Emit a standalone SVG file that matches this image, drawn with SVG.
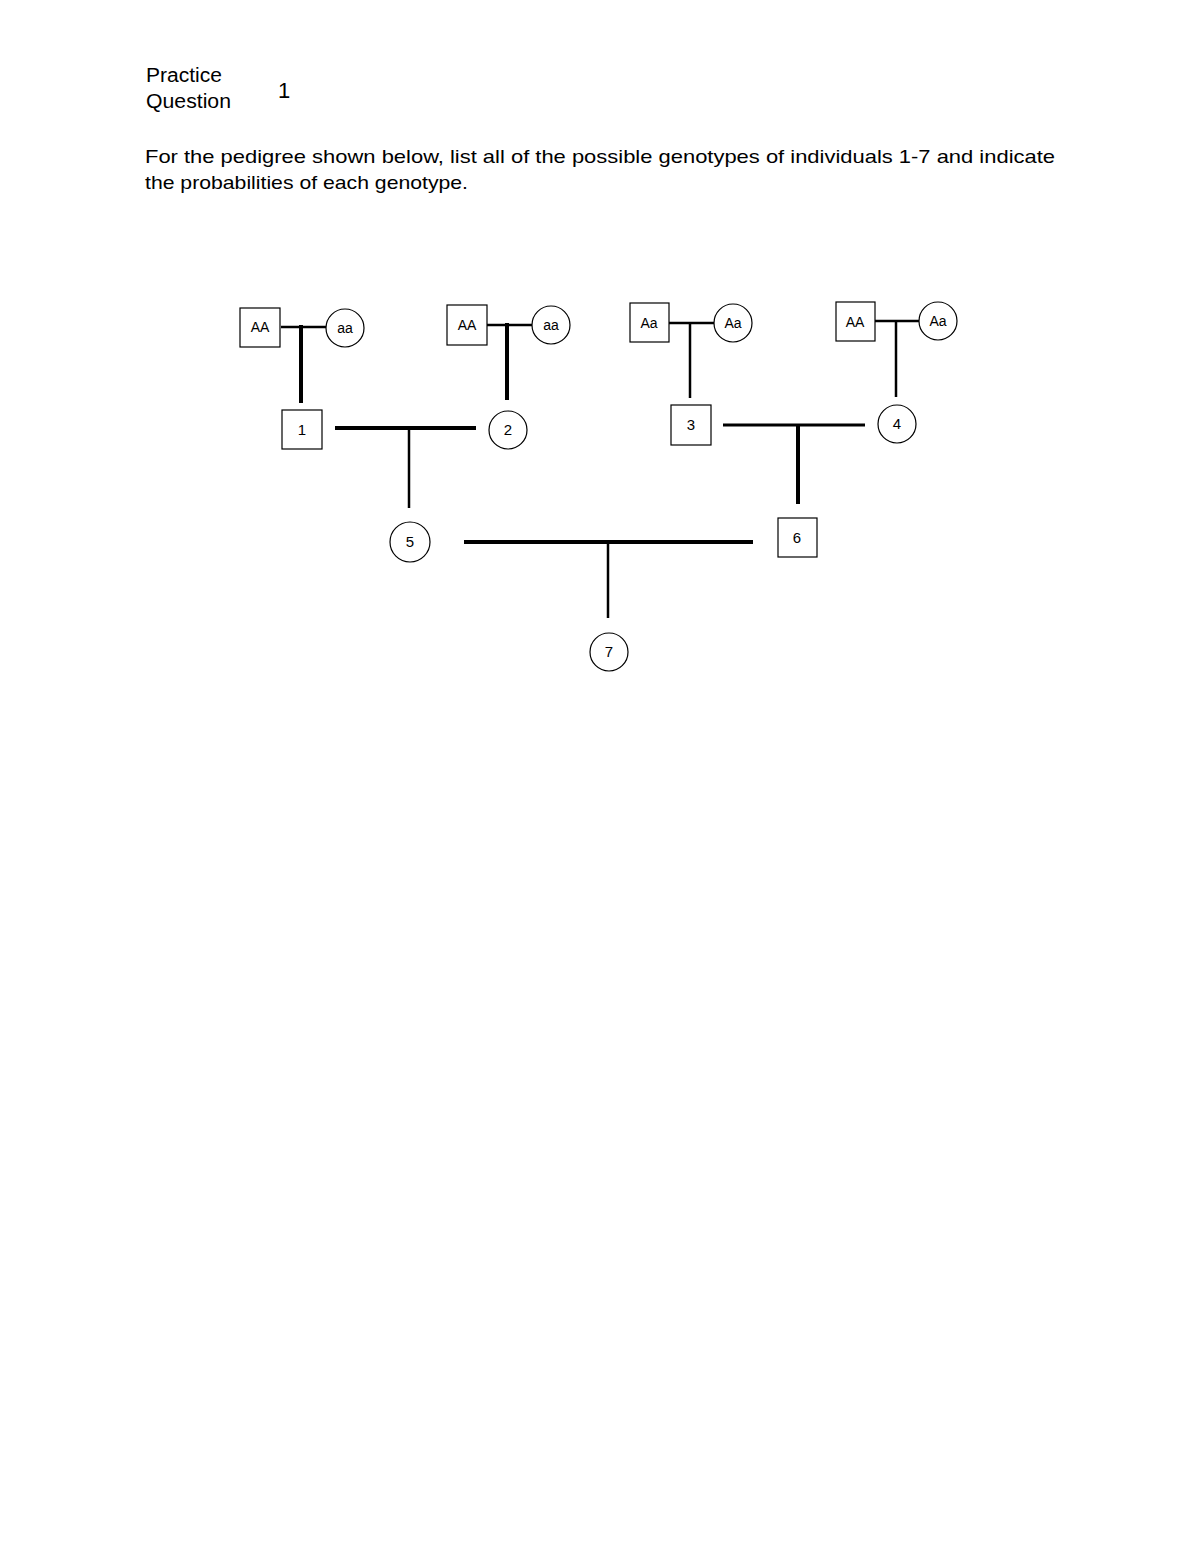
<svg xmlns="http://www.w3.org/2000/svg" width="1200" height="1553" viewBox="0 0 1200 1553">
<style>
text{font-family:"Liberation Sans",Arial,sans-serif;fill:#000}
.sq{fill:#fff;stroke:#000;stroke-width:1.2}
.ci{fill:#fff;stroke:#000;stroke-width:1.2}
.lbl{font-size:14px;text-anchor:middle}
.num{font-size:15px;text-anchor:middle}
.ln{stroke:#000;fill:none}
.t2{stroke-width:2.5}
.t3{stroke-width:3}
.t4{stroke-width:4}
</style>
<rect width="1200" height="1553" fill="#fff"/>
<g id="header">
<text x="146" y="82" font-size="20" textLength="76" lengthAdjust="spacingAndGlyphs">Practice</text>
<text x="146" y="108" font-size="20" textLength="85" lengthAdjust="spacingAndGlyphs">Question</text>
<text x="278" y="98" font-size="22">1</text>
<text x="145" y="163" font-size="19" textLength="910" lengthAdjust="spacingAndGlyphs">For the pedigree shown below, list all of the possible genotypes of individuals 1-7 and indicate</text>
<text x="145" y="189" font-size="19" textLength="323" lengthAdjust="spacingAndGlyphs">the probabilities of each genotype.</text>
</g>
<g id="connectors">
<line class="ln t2" x1="281" y1="327" x2="326" y2="327"/>
<line class="ln t4" x1="301" y1="325" x2="301" y2="403"/>
<line class="ln t2" x1="487" y1="325" x2="532" y2="325"/>
<line class="ln t4" x1="507" y1="323" x2="507" y2="400"/>
<line class="ln t2" x1="669" y1="323" x2="714" y2="323"/>
<line class="ln t2" x1="690" y1="323" x2="690" y2="398"/>
<line class="ln t2" x1="875" y1="321" x2="919" y2="321"/>
<line class="ln t2" x1="896" y1="321" x2="896" y2="397"/>
<line class="ln t4" x1="335" y1="428" x2="476" y2="428"/>
<line class="ln t2" x1="409" y1="428" x2="409" y2="508"/>
<line class="ln t3" x1="723" y1="425" x2="865" y2="425"/>
<line class="ln t4" x1="798" y1="425" x2="798" y2="504"/>
<line class="ln t4" x1="464" y1="542" x2="753" y2="542"/>
<line class="ln t2" x1="608" y1="542" x2="608" y2="618"/>
</g>
<g id="gp1-father"><rect class="sq" x="240" y="308" width="40" height="39"/><text class="lbl" x="260" y="332">AA</text></g>
<g id="gp1-mother"><circle class="ci" cx="345" cy="328" r="19"/><text class="lbl" x="345" y="333">aa</text></g>
<g id="gp2-father"><rect class="sq" x="447" y="305" width="40" height="40"/><text class="lbl" x="467" y="330">AA</text></g>
<g id="gp2-mother"><circle class="ci" cx="551" cy="325" r="19"/><text class="lbl" x="551" y="330">aa</text></g>
<g id="gp3-father"><rect class="sq" x="630" y="303" width="39" height="39"/><text class="lbl" x="649" y="328">Aa</text></g>
<g id="gp3-mother"><circle class="ci" cx="733" cy="323" r="19"/><text class="lbl" x="733" y="328">Aa</text></g>
<g id="gp4-father"><rect class="sq" x="836" y="302" width="39" height="39"/><text class="lbl" x="855" y="327">AA</text></g>
<g id="gp4-mother"><circle class="ci" cx="938" cy="321" r="19"/><text class="lbl" x="938" y="326">Aa</text></g>
<g id="ind1"><rect class="sq" x="282" y="410" width="40" height="39"/><text class="num" x="302" y="435">1</text></g>
<g id="ind2"><circle class="ci" cx="508" cy="430" r="19"/><text class="num" x="508" y="435">2</text></g>
<g id="ind3"><rect class="sq" x="671" y="405" width="40" height="40"/><text class="num" x="691" y="430">3</text></g>
<g id="ind4"><circle class="ci" cx="897" cy="424" r="19"/><text class="num" x="897" y="429">4</text></g>
<g id="ind5"><circle class="ci" cx="410" cy="542" r="20"/><text class="num" x="410" y="547">5</text></g>
<g id="ind6"><rect class="sq" x="778" y="518" width="39" height="39"/><text class="num" x="797" y="543">6</text></g>
<g id="ind7"><circle class="ci" cx="609" cy="652" r="19"/><text class="num" x="609" y="657">7</text></g>
</svg>
